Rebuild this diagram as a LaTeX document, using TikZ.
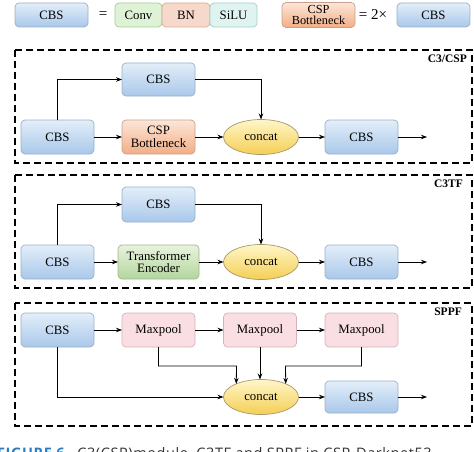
\documentclass[tikz,border=0pt]{standalone}
\usepackage{fontspec}
\setmainfont{Liberation Serif}
\newfontfamily\capfont[LetterSpace=4]{Open Sans}
\usetikzlibrary{arrows.meta,shapes.geometric}
\definecolor{cbstop}{HTML}{E3EEF9}
\definecolor{cbsbot}{HTML}{A9C8EA}
\definecolor{cbsline}{HTML}{9AAFC6}
\definecolor{csptop}{HTML}{FCE6D8}
\definecolor{cspbot}{HTML}{F2AE86}
\definecolor{cspline}{HTML}{C9A08A}
\definecolor{tftop}{HTML}{E8F3DE}
\definecolor{tfbot}{HTML}{B3D69C}
\definecolor{tfline}{HTML}{9DB58E}
\definecolor{mpfill}{HTML}{F9DEE3}
\definecolor{mpline}{HTML}{D6B2B8}
\definecolor{cattop}{HTML}{FFF6C8}
\definecolor{catbot}{HTML}{F4CF55}
\definecolor{catline}{HTML}{A8986A}
\definecolor{convfill}{HTML}{DEF3D5}
\definecolor{convline}{HTML}{A3CC92}
\definecolor{bnfill}{HTML}{F7D9CB}
\definecolor{bnline}{HTML}{D6AE9A}
\definecolor{silufill}{HTML}{DFF4F1}
\definecolor{siluline}{HTML}{A2CFC8}
\definecolor{capblue}{HTML}{2B7CC1}
\definecolor{captext}{HTML}{333333}
\tikzset{
  boxbase/.style={rounded corners=4pt, line width=0.7pt, inner sep=0pt, outer sep=0pt,
    align=center, font=\fontsize{12.8}{12.5}\selectfont, minimum width=73pt, minimum height=34pt},
  cbsbox/.style={boxbase, draw=cbsline, top color=cbstop, bottom color=cbsbot},
  cspbox/.style={boxbase, draw=cspline, top color=csptop, bottom color=cspbot},
  tfbox/.style={boxbase, draw=tfline, top color=tftop, bottom color=tfbot},
  mpbox/.style={boxbase, draw=mpline, fill=mpfill},
  catnode/.style={ellipse, draw=catline, line width=0.7pt, top color=cattop, bottom color=catbot,
    minimum width=75pt, minimum height=35pt, inner sep=0pt, outer sep=0pt,
    font=\fontsize{12.8}{12.5}\selectfont},
  frame/.style={dashed, dash pattern=on 7pt off 4pt, line width=1.4pt},
  seclabel/.style={font=\fontsize{11.5}{11.5}\selectfont\bfseries, inner sep=0pt},
  arr/.style={line width=0.8pt, -{Stealth[length=6pt,width=4.5pt]}},
  eqtext/.style={font=\fontsize{15}{15}\selectfont, inner sep=0pt}
}
\begin{document}
\begin{tikzpicture}[x=1pt,y=-1pt]
\useasboundingbox (0,0) rectangle (474,452);
% ---- legend row
\node[cbsbox, minimum height=24pt] (cbsT) at (51.5,15) {CBS};
\node[eqtext] (eq1) at (103,15) {=};
\node[boxbase, minimum width=47pt, minimum height=24pt, draw=convline, fill=convfill] (conv) at (138.5,15) {Conv};
\node[boxbase, minimum width=48pt, minimum height=24pt, draw=bnline, fill=bnfill] (bn) at (186,15) {BN};
\node[boxbase, minimum width=47pt, minimum height=24pt, draw=siluline, fill=silufill] (silu) at (233.5,15) {SiLU};
\node[cspbox, minimum height=25pt, font=\fontsize{12.3}{11.5}\selectfont] (cspT) at (318.5,15) {CSP\\Bottleneck};
\node[eqtext] (eq2) at (373,15) {= 2\texttimes};
\node[cbsbox, minimum height=24pt] (cbsT2) at (433.5,15) {CBS};

% ---- C3/CSP
\draw[frame] (15,50) rectangle (472,163);
\node[seclabel, anchor=north east] (lab1) at (467,55) {C3/CSP};
\node[cbsbox] (c1a) at (57.5,137) {CBS};
\node[cbsbox, minimum height=33pt] (c1b) at (158.5,79.5) {CBS};
\node[cspbox] (c1csp) at (158.5,137) {CSP\\Bottleneck};
\node[catnode] (cat1) at (261,137) {concat};
\node[cbsbox] (c1c) at (361.5,137) {CBS};
\coordinate (o1) at (427,137);
\draw[arr] (c1a.north) |- (c1b.west);
\draw[arr] (c1b.east) -| (cat1.north);
\draw[arr] (c1a.east) -- (c1csp.west);
\draw[arr] (c1csp.east) -- (cat1.west);
\draw[arr] (cat1.east) -- (c1c.west);
\draw[arr] (c1c.east) -- (o1);

% ---- C3TF
\draw[frame] (15,175) rectangle (472,288);
\node[seclabel, anchor=north east] (lab2) at (463,180) {C3TF};
\node[cbsbox] (c2a) at (57.5,262) {CBS};
\node[cbsbox, minimum height=35pt] (c2b) at (158.5,204.5) {CBS};
\node[tfbox, minimum width=81pt] (c2tf) at (158.5,262) {Transformer\\Encoder};
\node[catnode] (cat2) at (261,262) {concat};
\node[cbsbox] (c2c) at (361.5,262) {CBS};
\coordinate (o2) at (427,262);
\draw[arr] (c2a.north) |- (c2b.west);
\draw[arr] (c2b.east) -| (cat2.north);
\draw[arr] (c2a.east) -- (c2tf.west);
\draw[arr] (c2tf.east) -- (cat2.west);
\draw[arr] (cat2.east) -- (c2c.west);
\draw[arr] (c2c.east) -- (o2);

% ---- SPPF
\draw[frame] (15,303) rectangle (472,426);
\node[seclabel, anchor=north east] (lab3) at (462,308) {SPPF};
\node[cbsbox] (c3a) at (57.5,330) {CBS};
\node[mpbox] (mp1) at (158.5,330) {Maxpool};
\node[mpbox] (mp2) at (260,330) {Maxpool};
\node[mpbox] (mp3) at (361.5,330) {Maxpool};
\node[catnode] (cat3) at (261,397) {concat};
\node[cbsbox, minimum height=32pt] (c3c) at (361.5,397) {CBS};
\coordinate (o3) at (427,397);
\coordinate (j1) at (236.5,366);
\coordinate (j3) at (285.5,366);
\draw[arr] (c3a.east) -- (mp1.west);
\draw[arr] (mp1.east) -- (mp2.west);
\draw[arr] (mp2.east) -- (mp3.west);
\draw[arr] (c3a.south) |- (cat3.west);
\draw[arr] (mp1.south) |- (j1) -- (cat3.152);
\draw[arr] (mp2.south) -- (mp2.south |- cat3.north);
\draw[arr] (mp3.south) |- (j3) -- (cat3.28);
\draw[arr] (cat3.east) -- (c3c.west);
\draw[arr] (c3c.east) -- (o3);

% ---- caption (cut off at the bottom, as in the reference)
\node[anchor=north west, inner sep=0pt, font=\capfont\fontsize{14.5}{14.5}\selectfont] (cap) at (-3,447.5)
  {\textcolor{capblue}{\bfseries FIGURE 6.}\hspace{8pt}\textcolor{captext}{C3(CSP)module, C3TF and SPPF in CSP-Darknet53.}};
\end{tikzpicture}
\end{document}
